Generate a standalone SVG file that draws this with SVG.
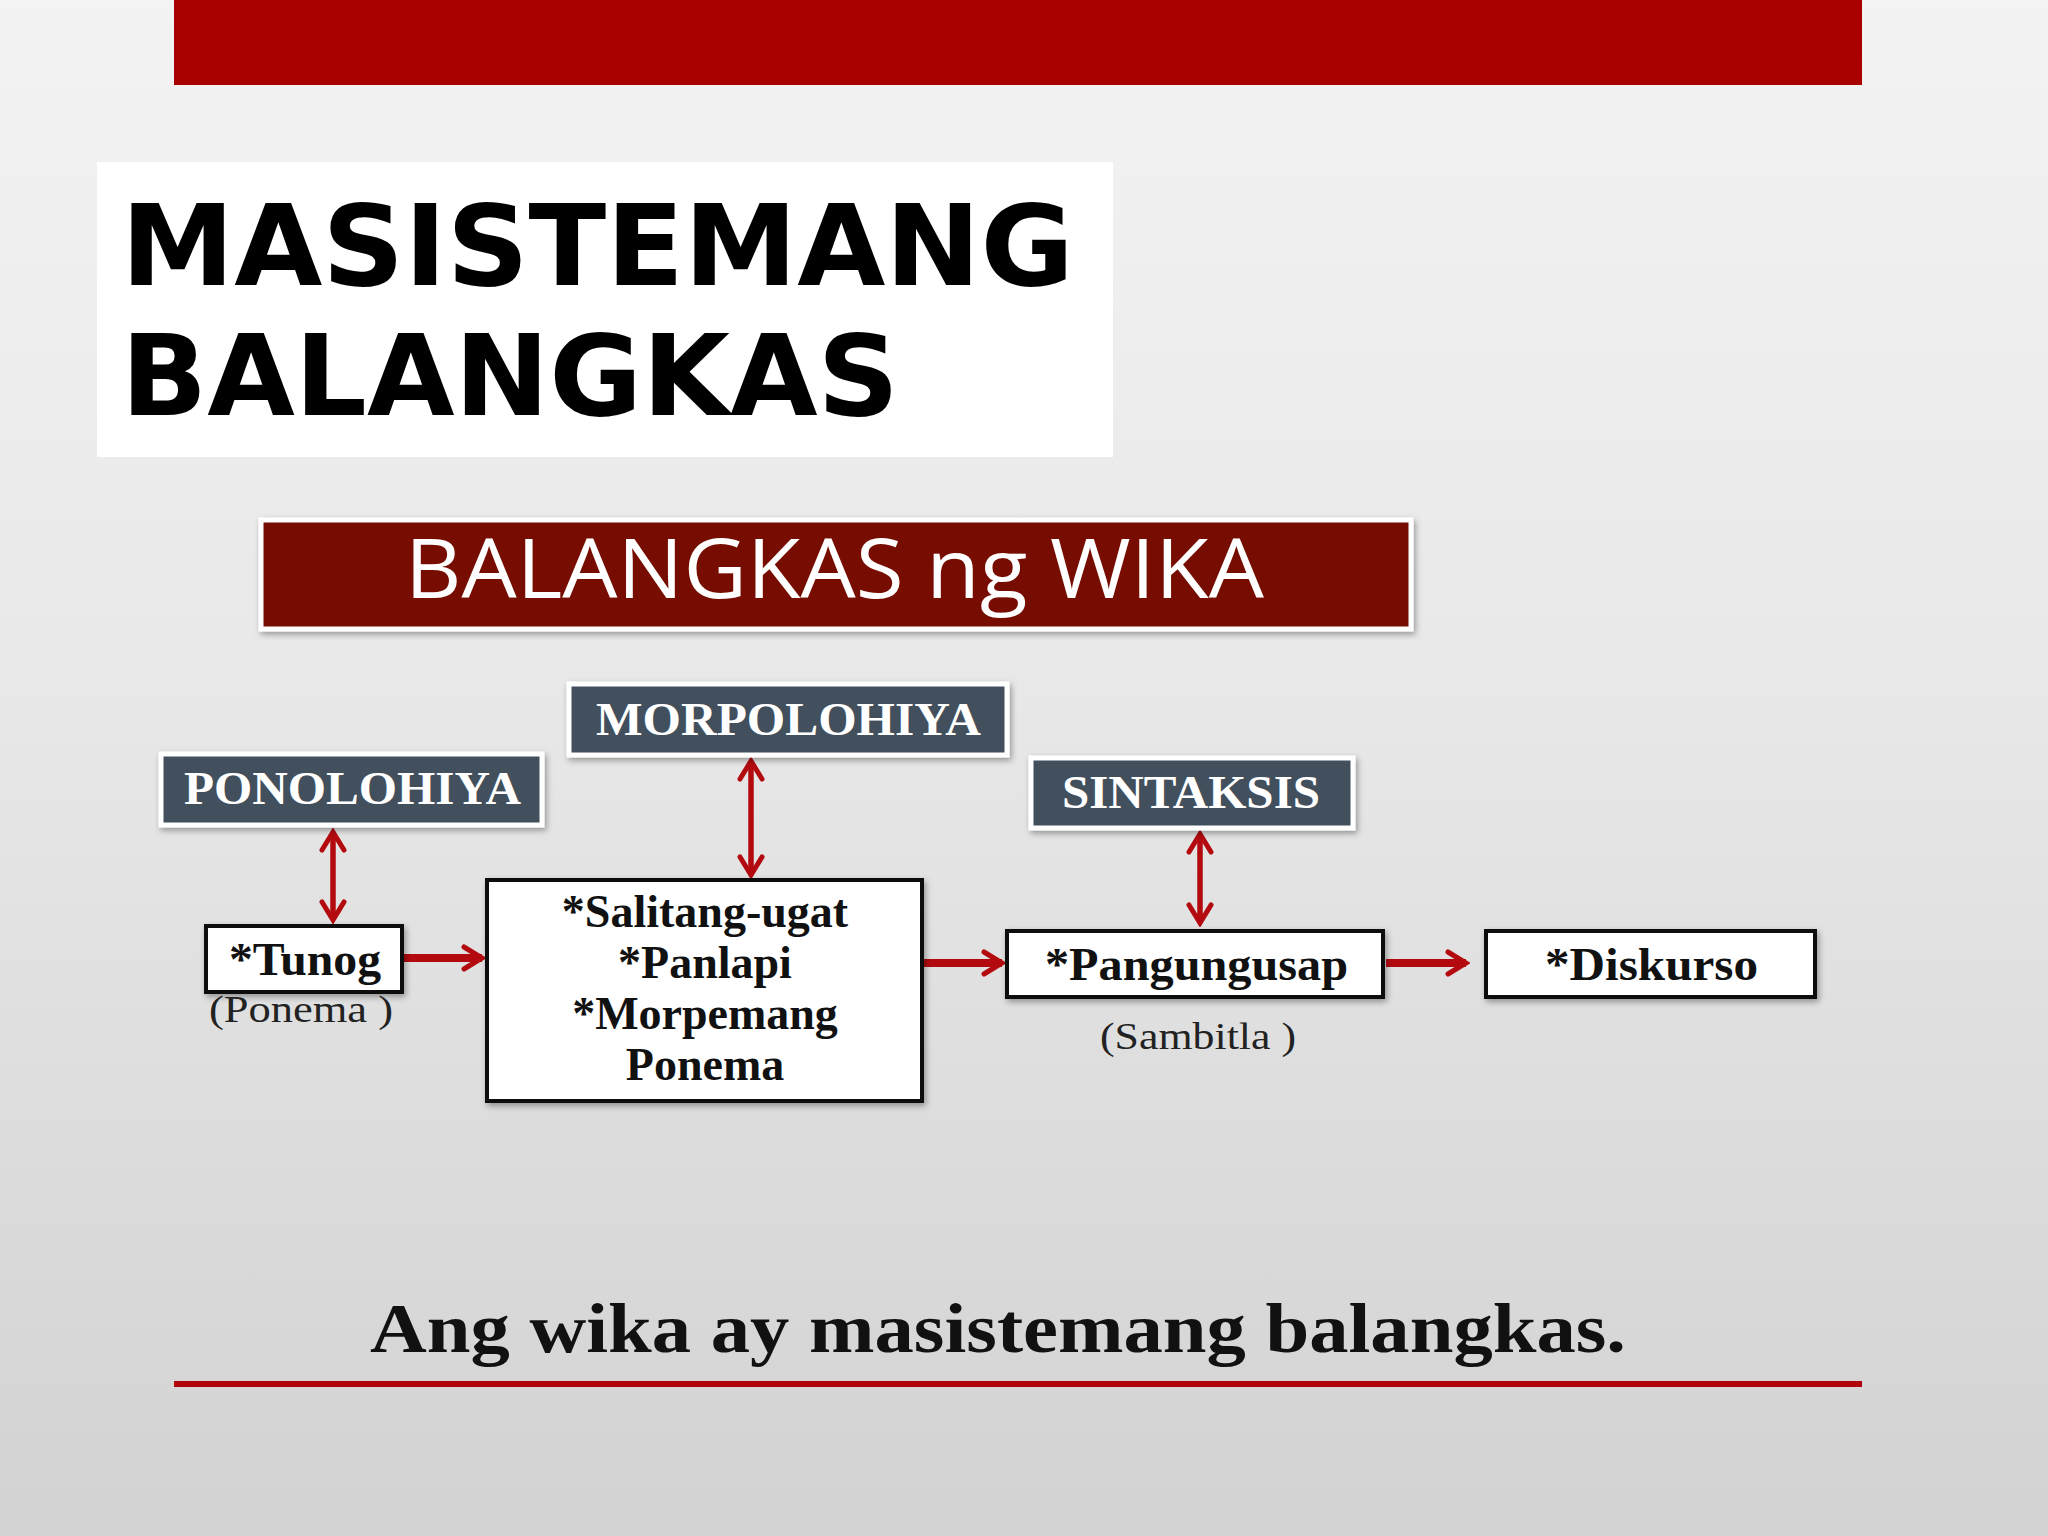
<svg xmlns="http://www.w3.org/2000/svg" width="2048" height="1536" viewBox="0 0 2048 1536">
<defs>
<linearGradient id="bg" x1="0" y1="0" x2="0" y2="1">
<stop offset="0" stop-color="#f3f3f3"/>
<stop offset="0.45" stop-color="#e8e8e8"/>
<stop offset="1" stop-color="#d2d2d2"/>
</linearGradient>
<filter id="sh" x="-5%" y="-10%" width="110%" height="130%">
<feDropShadow dx="2" dy="3" stdDeviation="3" flood-color="#000" flood-opacity="0.35"/>
</filter>
<marker id="ah" viewBox="0 0 28 28" refX="24" refY="14" markerWidth="28" markerHeight="28" markerUnits="userSpaceOnUse" orient="auto-start-reverse">
<path d="M6,3 L24,14 L6,25" fill="none" stroke="#b30a0f" stroke-width="5" stroke-linecap="round" stroke-linejoin="miter"/>
</marker>
<style>
.hdr{fill:#434f5d;stroke:#ffffff;stroke-width:5}
.hdrt{font-family:"Liberation Serif","Times New Roman",serif;font-weight:bold;font-size:46px;fill:#ffffff}
.box{fill:#ffffff;stroke:#111111;stroke-width:4}
.bt{font-family:"Liberation Serif","Times New Roman",serif;font-weight:bold;font-size:46px;fill:#111111}
.sub{font-family:"Liberation Serif","Times New Roman",serif;font-size:37px;fill:#222222}
.cv{stroke:#b30a0f;stroke-width:5.5;fill:none}
.ch{stroke:#b30a0f;stroke-width:8;fill:none}
</style>
</defs>
<rect width="2048" height="1536" fill="url(#bg)"/>
<rect x="174" y="0" width="1688" height="85" fill="#a90000"/>
<g id="title">
<rect x="97" y="162" width="1016" height="295" fill="#ffffff"/>
<text x="121" y="285" font-family="'DejaVu Sans',Verdana,sans-serif" font-weight="bold" font-size="112" textLength="953" lengthAdjust="spacingAndGlyphs" fill="#000">MASISTEMANG</text>
<text x="121" y="415" font-family="'DejaVu Sans',Verdana,sans-serif" font-weight="bold" font-size="112" textLength="778" lengthAdjust="spacingAndGlyphs" fill="#000">BALANGKAS</text>
</g>
<g id="banner">
<rect x="261" y="520" width="1150" height="109" fill="#761000" stroke="#ffffff" stroke-width="5" filter="url(#sh)"/>
<text x="405" y="598" font-family="'Open Sans','Liberation Sans',sans-serif" font-size="82" textLength="859" lengthAdjust="spacingAndGlyphs" fill="#ffffff">BALANGKAS ng WIKA</text>
</g>
<g id="connectors">
<line class="cv" x1="333" y1="832" x2="333" y2="920" marker-start="url(#ah)" marker-end="url(#ah)"/>
<line class="cv" x1="751" y1="761" x2="751" y2="875" marker-start="url(#ah)" marker-end="url(#ah)"/>
<line class="cv" x1="1200" y1="834" x2="1200" y2="923" marker-start="url(#ah)" marker-end="url(#ah)"/>
<line class="ch" x1="404" y1="958" x2="482" y2="958" marker-end="url(#ah)"/>
<line class="ch" x1="924" y1="963" x2="1002" y2="963" marker-end="url(#ah)"/>
<line class="ch" x1="1386" y1="963" x2="1466" y2="963" marker-end="url(#ah)"/>
</g>
<g id="ponolohiya">
<rect class="hdr" x="161" y="754" width="381" height="71" filter="url(#sh)"/>
<text class="hdrt" x="184" y="804" textLength="337" lengthAdjust="spacingAndGlyphs">PONOLOHIYA</text>
</g>
<g id="morpolohiya">
<rect class="hdr" x="569" y="684" width="438" height="71" filter="url(#sh)"/>
<text class="hdrt" x="596" y="735" textLength="385" lengthAdjust="spacingAndGlyphs">MORPOLOHIYA</text>
</g>
<g id="sintaksis">
<rect class="hdr" x="1031" y="758" width="322" height="70" filter="url(#sh)"/>
<text class="hdrt" x="1062" y="808" textLength="258" lengthAdjust="spacingAndGlyphs">SINTAKSIS</text>
</g>
<g id="tunog">
<rect class="box" x="206" y="926" width="196" height="66" filter="url(#sh)"/>
<text class="bt" x="229" y="975" textLength="152" lengthAdjust="spacingAndGlyphs">*Tunog</text>
<text class="sub" x="209" y="1022" textLength="184" lengthAdjust="spacingAndGlyphs">(Ponema )</text>
</g>
<g id="morpema">
<rect class="box" x="487" y="880" width="435" height="221" filter="url(#sh)"/>
<text class="bt" x="705" y="927" text-anchor="middle">*Salitang-ugat</text>
<text class="bt" x="705" y="978" text-anchor="middle">*Panlapi</text>
<text class="bt" x="705" y="1029" text-anchor="middle">*Morpemang</text>
<text class="bt" x="705" y="1080" text-anchor="middle">Ponema</text>
</g>
<g id="pangungusap">
<rect class="box" x="1007" y="931" width="376" height="66" filter="url(#sh)"/>
<text class="bt" x="1045" y="980" textLength="303" lengthAdjust="spacingAndGlyphs">*Pangungusap</text>
<text class="sub" x="1100" y="1049" textLength="196" lengthAdjust="spacingAndGlyphs">(Sambitla )</text>
</g>
<g id="diskurso">
<rect class="box" x="1486" y="931" width="329" height="66" filter="url(#sh)"/>
<text class="bt" x="1545" y="980" textLength="213" lengthAdjust="spacingAndGlyphs">*Diskurso</text>
</g>
<g id="caption">
<text x="370" y="1352" font-family="'Liberation Serif','Times New Roman',serif" font-weight="bold" font-size="70" textLength="1256" lengthAdjust="spacingAndGlyphs" fill="#111">Ang wika ay masistemang balangkas.</text>
<rect x="174" y="1381" width="1688" height="6" fill="#b00008"/>
</g>
</svg>
